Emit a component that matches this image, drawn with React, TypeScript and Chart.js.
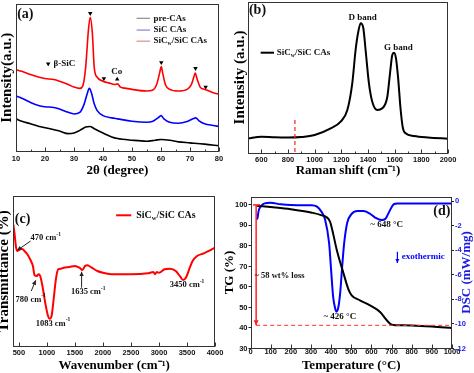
import React, { useEffect, useRef } from 'react';
import { Chart, registerables } from 'chart.js';

Chart.register(...registerables);

const SERIF = '"Liberation Serif", "Times New Roman", serif';
const SANS = '"Liberation Sans", Arial, sans-serif';

// ---------- (a) XRD ----------
const xrdTicks = [10, 20, 30, 40, 50, 60, 70, 80];
const xrdMinor = [15, 25, 35, 45, 55, 65, 75];
const xrdRedX = [10, 12, 15, 18, 20, 23, 25, 28, 30, 32, 33, 34, 35, 35.6, 36.3, 37, 38, 40, 42, 44, 45, 46, 48, 50, 55, 57, 58.5, 59.5, 60.1, 60.6, 61.5, 63, 66, 69, 70.5, 71.3, 71.8, 72.5, 73.5, 75, 78, 80];
const xrdRedY = [81.7, 80, 76.7, 74, 72.7, 71.7, 70, 66.7, 64, 62.7, 65, 83.3, 123, 135, 120, 83.3, 74, 70, 68.3, 66.7, 67.3, 64, 62.7, 61.7, 60, 60.7, 66.7, 78, 85, 78, 66.7, 61.7, 60, 61.7, 66.7, 74, 78.3, 71.7, 64, 61.7, 58.3, 56.7];
const xrdBlueX = [10, 12, 15, 18, 20, 23, 25, 28, 30, 32, 33.5, 34.5, 35.3, 36, 37, 38, 40, 43, 45, 50, 55, 57, 59, 60, 61, 63, 66, 69, 71, 72, 73, 75, 78, 80];
const xrdBlueY = [55, 52.7, 48.3, 45, 44, 43.3, 41.7, 38.3, 36.7, 38.3, 46.7, 56.7, 62.7, 58.3, 46.7, 40, 35, 32.7, 31.7, 29.3, 28.3, 29, 32.7, 35, 31.7, 28.3, 27.3, 29, 31.7, 32.7, 30, 26.7, 25, 24];
const xrdBlackX = [10, 12, 15, 18, 20, 25, 28, 30, 32, 34, 35.5, 37, 40, 43, 45, 50, 55, 58, 60, 63, 66, 70, 75, 80];
const xrdBlackY = [31.7, 29.3, 26.7, 24, 22.7, 19.3, 16.7, 17.3, 20, 23.3, 24, 21.7, 17.3, 13.3, 11.7, 10, 9, 10, 10.7, 10, 8.3, 7.3, 6, 4.3];
const sicPeakX = [21.1, 35.6, 40.3, 60.1, 71.9, 75.4];
const sicPeakY = [87.7, 139, 72.7, 89, 83, 64];
const coPeakX = [44.9];
const coPeakY = [72];

// ---------- (b) Raman ----------
const ramanTicks = [600, 800, 1000, 1200, 1400, 1600, 1800, 2000];
const ramanMinor = [700, 900, 1100, 1300, 1500, 1700, 1900];
const ramanX = [500, 600, 700, 800, 900, 1000, 1120, 1195, 1245, 1282, 1307, 1325, 1345, 1365, 1382, 1407, 1432, 1470, 1507, 1545, 1565, 1582, 1595, 1610, 1625, 1645, 1662, 1682, 1745, 1850, 2000];
const ramanY = [14.7, 16.3, 15.7, 15.5, 16, 18, 24.7, 31.3, 43, 69.7, 103, 119.7, 129.7, 124.7, 103, 69.7, 51.3, 43, 44.7, 56.3, 79.7, 98, 100.3, 94.7, 76.3, 43, 24.7, 19.7, 17, 15.5, 14.3];

// ---------- (c) FTIR ----------
const irTicks = [500, 1000, 1500, 2000, 2500, 3000, 3500, 4000];
const irX = [400, 420, 450, 470, 500, 550, 600, 650, 700, 750, 780, 820, 850, 880, 920, 970, 1020, 1050, 1083, 1120, 1160, 1200, 1250, 1300, 1400, 1500, 1580, 1635, 1680, 1720, 1800, 1900, 2000, 2200, 2500, 2800, 2900, 2930, 2960, 3000, 3100, 3200, 3300, 3380, 3430, 3480, 3550, 3600, 3680, 3800, 3900, 4000];
const irY = [122.7, 114.3, 99.3, 96, 97, 98.3, 96, 92.7, 87.7, 81, 71.7, 71, 72.7, 71, 61, 44.3, 31, 28.3, 31, 47.7, 67.7, 77.7, 78.3, 79.3, 80, 81, 79.3, 77, 81, 81.7, 79.3, 76, 74.3, 72.7, 72.7, 73.7, 75, 72.7, 75, 74.3, 77.7, 78.3, 76, 70.3, 67, 69.3, 79.3, 86, 91, 93.7, 96.3, 99.3];

// ---------- (d) TG / DSC ----------
const tempTicks = [0, 100, 200, 300, 400, 500, 600, 700, 800, 900, 1000];
const tgTicks = [30, 40, 50, 60, 70, 80, 90, 100];
const dscTicks = [-12, -10, -8, -6, -4, -2, 0];
const tgX = [33, 60, 100, 200, 300, 350, 394, 410, 427, 445, 460, 485, 502, 543, 593, 643, 676, 701, 750, 800, 900, 1000];
const tgY = [99.5, 99.4, 99, 97.9, 96.3, 95, 92, 86, 78.5, 72, 67.2, 59.1, 55.9, 53.5, 51, 47.8, 43.8, 41.6, 41.3, 41.2, 40.7, 40];
const dscX = [30, 35, 40, 50, 70, 100, 150, 200, 300, 330, 350, 370, 390, 400, 410, 420, 426, 435, 445, 455, 465, 480, 500, 530, 560, 590, 620, 650, 670, 690, 710, 730, 1000];
const dscY = [-1.5, -1.36, -0.82, -0.46, -0.19, -0.14, -0.27, -0.33, -0.35, -0.46, -0.82, -1.5, -3.41, -5.6, -7.77, -8.73, -9.0, -8.73, -7.5, -5.32, -3.41, -1.77, -1.09, -0.82, -0.82, -1.0, -1.36, -1.55, -1.44, -0.82, -0.27, -0.19, -0.19];

const sicw = [{ t: 'SiC' }, { t: 'w', s: 'sub' }, { t: '/SiC CAs' }];
const cm = (n: string) => [{ t: n + ' cm' }, { t: '-1', s: 'sup' }];

const tickFont = { family: SANS, weight: 'bold', size: 7.5 };

function line(xs: number[], ys: number[], color: string, w: number, yAxisID = 'y') {
  return {
    data: xs.map((x, i) => ({ x, y: ys[i] })),
    borderColor: color,
    backgroundColor: color,
    borderWidth: w,
    pointRadius: 0,
    fill: false,
    cubicInterpolationMode: 'monotone',
    yAxisID,
  };
}

function markers(xs: number[], ys: number[], rotation: number) {
  return {
    data: xs.map((x, i) => ({ x, y: ys[i] })),
    showLine: false,
    pointStyle: 'triangle',
    rotation,
    pointRadius: 2.6,
    backgroundColor: '#000',
    borderColor: '#000',
    borderWidth: 0,
  };
}

function xAxis(min: number, max: number, values: number[], pad: number, title: string, titlePad: number, height: number) {
  return {
    type: 'linear',
    position: 'bottom',
    min,
    max,
    afterBuildTicks: (s: any) => {
      s.ticks = values.map((v) => ({ value: v }));
    },
    ticks: { font: tickFont, color: '#111', padding: pad, autoSkip: false, maxRotation: 0, callback: (v: any) => String(v) },
    grid: { display: false, drawTicks: false },
    border: { display: false },
    title: {
      display: true,
      text: title,
      color: '#000',
      font: { family: SERIF, weight: 'bold', size: 13 },
      padding: { top: 0, bottom: titlePad },
    },
    afterFit: (s: any) => {
      s.height = height;
    },
  };
}

function yBlank(min: number, max: number, title: string, titlePad: number, width: number) {
  return {
    type: 'linear',
    position: 'left',
    min,
    max,
    ticks: { display: false },
    grid: { display: false, drawTicks: false },
    border: { display: false },
    title: {
      display: true,
      text: title,
      color: '#000',
      font: { family: SERIF, weight: 'bold', size: 15, lineHeight: 1 },
      padding: { top: titlePad, bottom: 0 },
    },
    afterFit: (s: any) => {
      s.width = width;
    },
  };
}

function drawRich(ctx: CanvasRenderingContext2D, segs: any[], x: number, y: number, size: number, color: string, align: string) {
  const fontFor = (s?: string) => `bold ${s ? size * 0.65 : size}px ${SERIF}`;
  let total = 0;
  const widths = segs.map((sg) => {
    ctx.font = fontFor(sg.s);
    const w = ctx.measureText(sg.t).width;
    total += w;
    return w;
  });
  let cx = align === 'center' ? x - total / 2 : align === 'right' ? x - total : x;
  ctx.fillStyle = color;
  ctx.textBaseline = 'middle';
  ctx.textAlign = 'left';
  segs.forEach((sg, i) => {
    ctx.font = fontFor(sg.s);
    const dy = sg.s === 'sub' ? size * 0.3 : sg.s === 'sup' ? -size * 0.38 : 0;
    ctx.fillText(sg.t, cx, y + dy);
    cx += widths[i];
  });
}

function makeDecor(d: any) {
  return {
    id: 'decor',
    afterDatasetsDraw(chart: any) {
      const { ctx, chartArea: a, scales } = chart;
      const xs = scales.x;
      ctx.save();
      ctx.strokeStyle = '#333';
      ctx.lineWidth = 1;
      const L = Math.round(a.left) + 0.5;
      const R = Math.round(a.right) - 0.5;
      const T = Math.round(a.top) + 0.5;
      const B = Math.round(a.bottom) - 0.5;
      ctx.strokeRect(L, T, R - L, B - T);
      ctx.beginPath();
      for (const v of d.major || []) {
        const p = Math.round(xs.getPixelForValue(v)) + 0.5;
        ctx.moveTo(p, B);
        ctx.lineTo(p, B - 4);
      }
      for (const v of d.minor || []) {
        const p = Math.round(xs.getPixelForValue(v)) + 0.5;
        ctx.moveTo(p, B);
        ctx.lineTo(p, B - 2);
      }
      ctx.stroke();
      for (const ar of d.arrows || []) {
        const ys = scales[ar.axis || 'y'];
        const x1 = xs.getPixelForValue(ar.x1);
        const y1 = ys.getPixelForValue(ar.y1);
        const x2 = xs.getPixelForValue(ar.x2);
        const y2 = ys.getPixelForValue(ar.y2);
        ctx.strokeStyle = ar.color;
        ctx.lineWidth = ar.width;
        ctx.setLineDash(ar.dash || []);
        ctx.beginPath();
        ctx.moveTo(x1, y1);
        ctx.lineTo(x2, y2);
        ctx.stroke();
        ctx.setLineDash([]);
        if (ar.head) {
          const ang = Math.atan2(y2 - y1, x2 - x1);
          const h = ar.head;
          const bx = x2 - 2 * h * Math.cos(ang);
          const by = y2 - 2 * h * Math.sin(ang);
          ctx.fillStyle = ar.color;
          ctx.beginPath();
          ctx.moveTo(x2, y2);
          ctx.lineTo(bx - h * Math.sin(ang), by + h * Math.cos(ang));
          ctx.lineTo(bx + h * Math.sin(ang), by - h * Math.cos(ang));
          ctx.closePath();
          ctx.fill();
        }
      }
      for (const n of d.notes || []) {
        const ys = scales[n.axis || 'y'];
        drawRich(ctx, n.segs, xs.getPixelForValue(n.x), ys.getPixelForValue(n.y), n.size, n.color || '#111', n.align || 'left');
      }
      if (d.rightTitle) {
        const rt = d.rightTitle;
        ctx.translate(chart.width - rt.inset, (a.top + a.bottom) / 2);
        ctx.rotate(-Math.PI / 2);
        ctx.font = `bold ${rt.size}px ${SERIF}`;
        ctx.fillStyle = rt.color;
        ctx.textAlign = 'center';
        ctx.textBaseline = 'middle';
        ctx.fillText(rt.text, 0, 0);
      }
      ctx.restore();
    },
  };
}

const baseOptions = (padding: any) => ({
  animation: false,
  responsive: false,
  maintainAspectRatio: false,
  events: [],
  layout: { padding },
  plugins: { legend: { display: false }, tooltip: { enabled: false } },
});

const configA = () => ({
  type: 'line',
  data: {
    datasets: [
      line(xrdBlackX, xrdBlackY, '#000000', 1.6),
      line(xrdBlueX, xrdBlueY, '#0000ff', 1.6),
      line(xrdRedX, xrdRedY, '#ff0000', 1.6),
      markers(sicPeakX, sicPeakY, 180),
      markers(coPeakX, coPeakY, 0),
    ],
  },
  options: {
    ...baseOptions({ left: 0, right: 18, top: 1.5, bottom: 0 }),
    scales: {
      x: xAxis(10, 80, xrdTicks, 3, '2θ (degree)', 7.2, 34.5),
      y: yBlank(-1.5, 148.5, 'Intensity(a.u.)', 0, 16),
    },
  },
  plugins: [
    makeDecor({
      major: xrdTicks,
      minor: xrdMinor,
      arrows: [
        { x1: 51.6, y1: 134, x2: 56.2, y2: 134, color: '#777777', width: 1 },
        { x1: 51.6, y1: 122, x2: 56.2, y2: 122, color: '#6a6ad0', width: 1 },
        { x1: 51.6, y1: 110.7, x2: 56.2, y2: 110.7, color: '#e07070', width: 1 },
      ],
      notes: [
        { x: 10.4, y: 138.3, segs: [{ t: '(a)' }], size: 14 },
        { x: 57.4, y: 134, segs: [{ t: 'pre-CAs' }], size: 9 },
        { x: 57.4, y: 122, segs: [{ t: 'SiC CAs' }], size: 9 },
        { x: 57.4, y: 110.7, segs: sicw, size: 9 },
        { x: 22.9, y: 88, segs: [{ t: 'β-SiC' }], size: 9 },
        { x: 44.7, y: 79.5, segs: [{ t: 'Co' }], size: 9, align: 'center' },
      ],
    }),
  ],
});

const configB = () => ({
  type: 'line',
  data: { datasets: [line(ramanX, ramanY, '#000000', 2)] },
  options: {
    ...baseOptions({ left: 0, right: 26, top: 1.5, bottom: 0 }),
    scales: {
      x: xAxis(500, 2000, ramanTicks, 2, 'Raman shift (cm⁻¹)', 7.2, 32.5),
      y: yBlank(-0.5, 151.5, 'Intensity (a.u.)', 4.5, 20),
    },
  },
  plugins: [
    makeDecor({
      major: ramanTicks,
      minor: ramanMinor,
      arrows: [
        { x1: 852, y1: 1, x2: 852, y2: 35, color: '#ff2020', width: 1.2, dash: [4, 3] },
        { x1: 595, y1: 100.3, x2: 695, y2: 100.3, color: '#000', width: 2 },
      ],
      notes: [
        { x: 507, y: 143, segs: [{ t: '(b)' }], size: 14 },
        { x: 1360, y: 135.7, segs: [{ t: 'D band' }], size: 9, align: 'center' },
        { x: 1627, y: 105.3, segs: [{ t: 'G band' }], size: 9, align: 'center' },
        { x: 715, y: 100.3, segs: sicw, size: 9 },
      ],
    }),
  ],
});

const configC = () => ({
  type: 'line',
  data: { datasets: [line(irX, irY, '#ff0000', 2)] },
  options: {
    ...baseOptions({ left: 0, right: 13, top: 9.5, bottom: 0 }),
    scales: {
      x: xAxis(400, 4000, irTicks, 1.5, 'Wavenumber (cm⁻¹)', 0, 26),
      y: yBlank(0, 151.5, 'Transmittance (%)', 1, 17.3),
    },
  },
  plugins: [
    makeDecor({
      major: irTicks,
      arrows: [
        { x1: 2235, y1: 131.7, x2: 2505, y2: 131.7, color: '#ff0000', width: 2 },
        { x1: 709, y1: 106, x2: 470, y2: 96.7, color: '#222', width: 1, head: 2.2 },
        { x1: 721, y1: 56, x2: 799, y2: 66.7, color: '#222', width: 1, head: 2.2 },
        { x1: 1619, y1: 59.3, x2: 1619, y2: 75.3, color: '#222', width: 1, head: 2.2 },
      ],
      notes: [
        { x: 428, y: 127.7, segs: [{ t: '(c)' }], size: 14 },
        { x: 2595, y: 131.7, segs: sicw, size: 10 },
        { x: 709, y: 109.3, segs: cm('470'), size: 8.5 },
        { x: 440, y: 47.7, segs: cm('780'), size: 8.5 },
        { x: 799, y: 23.7, segs: cm('1083'), size: 8.5 },
        { x: 1428, y: 55, segs: cm('1635'), size: 8.5 },
        { x: 3193, y: 62, segs: cm('3450'), size: 8.5 },
      ],
    }),
  ],
});

const configD = () => ({
  type: 'line',
  data: {
    datasets: [line(tgX, tgY, '#000000', 2, 'y'), line(dscX, dscY, '#0000ff', 2, 'y2')],
  },
  options: {
    ...baseOptions({ left: 0, right: 0, top: 10.5, bottom: 0 }),
    scales: {
      x: xAxis(0, 1000, tempTicks, -1, 'Temperature (°C)', 0, 24.5),
      y: {
        type: 'linear',
        position: 'left',
        min: 30,
        max: 104.1,
        afterBuildTicks: (s: any) => {
          s.ticks = tgTicks.map((v) => ({ value: v }));
        },
        ticks: { font: tickFont, color: '#111', padding: 1, callback: (v: any) => String(v) },
        grid: { display: true, drawOnChartArea: false, drawTicks: true, tickLength: 2, color: '#222' },
        border: { display: false },
        title: {
          display: true,
          text: 'TG (%)',
          color: '#000',
          font: { family: SERIF, weight: 'bold', size: 13, lineHeight: 1 },
          padding: { top: 5.5, bottom: 0 },
        },
        afterFit: (s: any) => {
          s.width = 32.5;
        },
      },
      y2: {
        type: 'linear',
        position: 'right',
        min: -12,
        max: 0.37,
        afterBuildTicks: (s: any) => {
          s.ticks = dscTicks.map((v) => ({ value: v }));
        },
        ticks: { font: tickFont, color: '#1a1ae0', padding: 1, callback: (v: any) => String(v) },
        grid: { display: true, drawOnChartArea: false, drawTicks: true, tickLength: 2, color: '#222' },
        border: { display: false },
        title: { display: false },
        afterFit: (s: any) => {
          s.width = 22;
        },
      },
    },
  },
  plugins: [
    makeDecor({
      major: tempTicks,
      arrows: [
        { x1: 28, y1: 41.3, x2: 1000, y2: 41.3, color: '#ff3030', width: 1, dash: [4, 3] },
        { x1: 12, y1: 100, x2: 48, y2: 100, color: '#ff2020', width: 1.5 },
        { x1: 28, y1: 100, x2: 28, y2: 41.3, color: '#ff2020', width: 1.5, head: 2.5 },
        { x1: 729, y1: 77.2, x2: 729, y2: 71.7, color: '#0000ff', width: 1.2, head: 2 },
      ],
      notes: [
        { x: 950, y: 96.6, segs: [{ t: '(d)' }], size: 14, align: 'center' },
        { x: 676, y: 90.3, segs: [{ t: '~ 648 °C' }], size: 9, align: 'center' },
        { x: 751, y: 74.8, segs: [{ t: 'exothermic' }], size: 9, color: '#0000ff' },
        { x: 443, y: 45.4, segs: [{ t: '~ 426 °C' }], size: 9, align: 'center' },
        { x: 20, y: 65.2, segs: [{ t: '~ 58 wt% loss' }], size: 8.5 },
      ],
      rightTitle: { text: 'DSC (mW/mg)', size: 13, color: '#1a1ae0', inset: 7 },
    }),
  ],
});

function Panel({ left, top, width, height, make }: any) {
  const ref = useRef<HTMLCanvasElement>(null);
  useEffect(() => {
    const chart = new Chart(ref.current as HTMLCanvasElement, make() as any);
    return () => chart.destroy();
  }, []);
  return (
    <canvas
      ref={ref}
      width={width}
      height={height}
      style={{ position: 'absolute', left, top, width, height }}
    />
  );
}

export default function App() {
  return (
    <div style={{ position: 'absolute', left: 0, top: 0, width: 474, height: 373, background: '#fff', overflow: 'hidden' }}>
      <Panel left={0} top={0} width={237} height={186} make={configA} />
      <Panel left={228} top={0} width={246} height={186} make={configB} />
      <Panel left={-4} top={186} width={232} height={187} make={configC} />
      <Panel left={218} top={186} width={256} height={187} make={configD} />
    </div>
  );
}
